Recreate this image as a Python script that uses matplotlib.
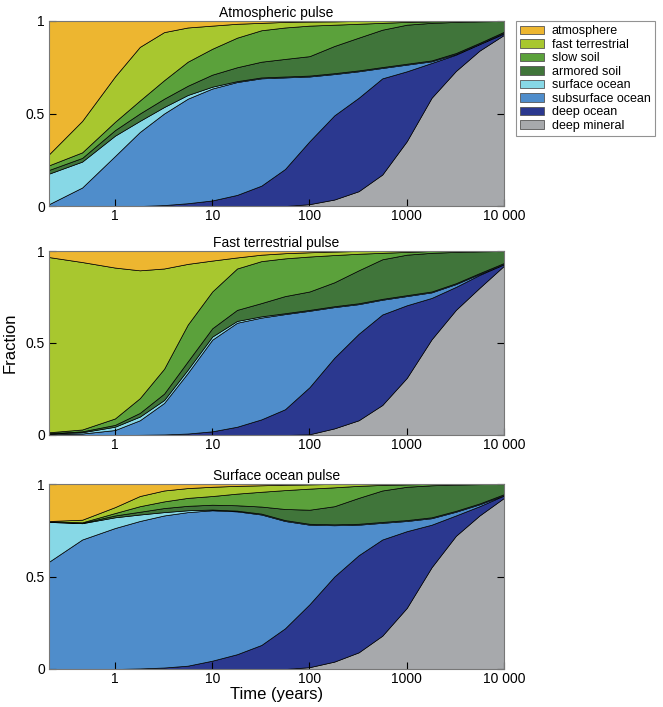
import matplotlib
matplotlib.use("Agg")
import matplotlib.pyplot as plt
from matplotlib.patches import Patch
from matplotlib.ticker import FixedLocator, FixedFormatter, NullLocator

plt.rcParams['font.family'] = ['Liberation Sans', 'DejaVu Sans']

# ---- data ----
time_years = [0.21, 0.46, 1, 1.8, 3.2, 5.6, 10, 18, 32, 56, 100, 180, 320, 560,
              1000, 1800, 3200, 5600, 10000]

series_names = ["atmosphere", "fast terrestrial", "slow soil", "armored soil",
                "surface ocean", "subsurface ocean", "deep ocean", "deep mineral"]
series_colors = ["#EDB630", "#A8C72F", "#5BA13B", "#40753A",
                 "#87D8E6", "#4F8DCB", "#2B388F", "#A7A9AC"]

panel_titles = ["Atmospheric pulse", "Fast terrestrial pulse", "Surface ocean pulse"]

# Panel 1: atmospheric pulse (fractions per reservoir)
atm_deep_mineral = [0, 0, 0, 0, 0, 0, 0, 0, 0, 0, .01, .035, .08, .17, .35, .585, .73, .84, .925]
atm_deep_ocean = [0, 0, 0, 0, .005, .015, .03, .06, .11, .20, .34, .455, .505, .52, .378, .188, .088, .035, .007]
atm_subsurface = [.01, .10, .27, .40, .495, .565, .605, .61, .58, .495, .35, .223, .143, .056, .036, .009, .004, .002, .005]
atm_surface = [.165, .14, .11, .06, .035, .02, .01, .005, .005, .005, .005, .005, .005, .005, .005, .005, .005, .005, .005]
atm_armored = [.02, .02, .03, .04, .045, .05, .065, .075, .085, .095, .105, .147, .177, .202, .211, .203, .168, .116, .058]
atm_slow = [.025, .03, .045, .07, .10, .13, .14, .16, .17, .17, .165, .115, .075, .037, .015, .008, .005, .002, 0]
atm_fast = [.06, .17, .245, .29, .26, .185, .125, .075, .04, .03, .022, .018, .015, .01, .005, .002, 0, 0, 0]
atm_atmosphere = [.72, .54, .30, .14, .06, .035, .025, .015, .01, .005, .003, .002, 0, 0, 0, 0, 0, 0, 0]

# Panel 2: fast terrestrial pulse
ft_deep_mineral = [0, 0, 0, 0, 0, 0, 0, 0, 0, 0, .004, .036, .08, .163, .31, .52, .68, .80, .92]
ft_deep_ocean = [0, 0, 0, .001, .003, .008, .02, .045, .085, .14, .256, .384, .47, .492, .395, .225, .125, .07, .008]
ft_subsurface = [.004, .008, .027, .079, .171, .329, .498, .565, .553, .517, .415, .275, .161, .08, .05, .03, .015, .005, .002]
ft_surface = [.004, .007, .018, .02, .016, .018, .017, .01, .007, .005, .005, .005, .005, .005, .005, .005, .005, .005, .005]
ft_armored = [.002, .005, .01, .02, .035, .045, .045, .06, .072, .093, .10, .13, .179, .215, .22, .21, .17, .118, .065]
ft_slow = [.005, .01, .035, .08, .135, .20, .20, .225, .228, .205, .19, .148, .09, .035, .015, .01, .005, .002, 0]
ft_fast = [.952, .91, .82, .695, .545, .33, .168, .06, .035, .028, .023, .019, .015, .01, .005, 0, 0, 0, 0]
ft_atmosphere = [.033, .06, .09, .105, .095, .07, .052, .035, .02, .012, .007, .003, 0, 0, 0, 0, 0, 0, 0]

# Panel 3: surface ocean pulse
so_deep_mineral = [0, 0, 0, 0, 0, 0, 0, 0, 0, 0, .01, .04, .09, .18, .33, .55, .72, .83, .925]
so_deep_ocean = [0, 0, 0, .003, .008, .018, .045, .08, .13, .22, .34, .46, .525, .52, .415, .23, .11, .05, .013]
so_subsurface = [.58, .70, .762, .797, .822, .83, .813, .772, .705, .58, .43, .277, .165, .09, .055, .035, .02, .01, .002]
so_surface = [.215, .088, .058, .035, .018, .01, .004, .004, .005, .005, .005, .005, .005, .005, .005, .005, .005, .005, .005]
so_armored = [.002, .002, .01, .015, .022, .024, .026, .029, .038, .06, .076, .098, .14, .17, .18, .173, .142, .104, .055]
so_slow = [.001, .003, .013, .03, .036, .043, .047, .063, .08, .102, .114, .102, .065, .03, .013, .007, .003, .001, 0]
so_fast = [.002, .014, .032, .055, .059, .053, .05, .042, .035, .029, .023, .018, .01, .005, .002, 0, 0, 0, 0]
so_atmosphere = [.20, .193, .125, .065, .035, .022, .015, .01, .007, .004, .002, 0, 0, 0, 0, 0, 0, 0, 0]

x_ticks = [1, 10, 100, 1000, 10000]
x_tick_labels = ["1", "10", "100", "1000", "10 000"]
y_ticks = [0, 0.5, 1]
y_tick_labels = ["0", "0.5", "1"]

panels = [
    [atm_deep_mineral, atm_deep_ocean, atm_subsurface, atm_surface,
     atm_armored, atm_slow, atm_fast, atm_atmosphere],
    [ft_deep_mineral, ft_deep_ocean, ft_subsurface, ft_surface,
     ft_armored, ft_slow, ft_fast, ft_atmosphere],
    [so_deep_mineral, so_deep_ocean, so_subsurface, so_surface,
     so_armored, so_slow, so_fast, so_atmosphere],
]

# ---- figure ----
W, H = 663, 707
fig = plt.figure(figsize=(W / 100, H / 100), dpi=100)

axes_px = [(49, 21, 504, 206), (49, 251, 504, 435), (49, 484, 504, 669)]
stack_colors = series_colors[::-1]

for i, (box, layers, title) in enumerate(zip(axes_px, panels, panel_titles)):
    x0, y0, x1, y1 = box
    ax = fig.add_axes([x0 / W, 1 - y1 / H, (x1 - x0) / W, (y1 - y0) / H])
    ax.stackplot(time_years, *layers, colors=stack_colors,
                 edgecolor="black", linewidth=0.5)
    ax.set_xscale("log")
    ax.set_xlim(0.21, 10000)
    ax.set_ylim(0, 1)
    ax.xaxis.set_major_locator(FixedLocator(x_ticks))
    ax.xaxis.set_major_formatter(FixedFormatter(x_tick_labels))
    ax.xaxis.set_minor_locator(NullLocator())
    ax.yaxis.set_major_locator(FixedLocator(y_ticks))
    ax.yaxis.set_major_formatter(FixedFormatter(y_tick_labels))
    ax.tick_params(axis="both", direction="in", length=5, width=0.8,
                   labelsize=10, pad=2, color="black")
    ax.tick_params(axis="y", right=True, labelright=False, pad=3)
    for sp in ax.spines.values():
        sp.set_linewidth(0.8)
        sp.set_color("#777777")
    ax.set_title(title, fontsize=10, pad=3)
    if i == 1:
        ax.set_ylabel("Fraction", fontsize=12, labelpad=6)
    if i == 2:
        ax.set_xlabel("Time (years)", fontsize=12, labelpad=1)

handles = [Patch(facecolor=c, edgecolor="#555555", linewidth=0.6) for c in series_colors]
leg = fig.legend(handles, series_names, loc="upper left",
                 bbox_to_anchor=(516 / W, 1 - 21 / H), fontsize=9,
                 frameon=True, fancybox=False, borderpad=0.35,
                 labelspacing=0.12, handlelength=1.9, handleheight=0.65,
                 handletextpad=0.6, borderaxespad=0)
leg.get_frame().set_edgecolor("#777777")
leg.get_frame().set_linewidth(0.8)

fig.savefig("out.png", dpi=100)
